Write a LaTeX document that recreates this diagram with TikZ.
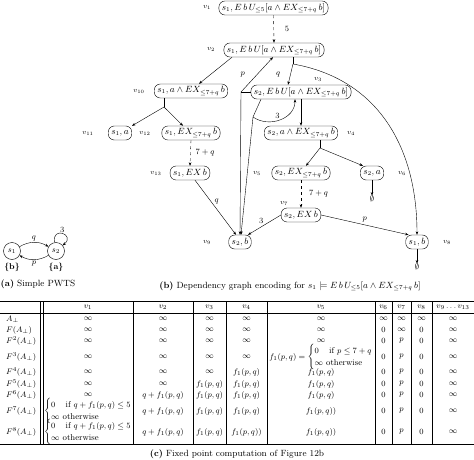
\documentclass[tikz,border=0pt]{standalone}
\usepackage{amsmath,amssymb}
\usetikzlibrary{arrows.meta}
\newcommand{\mycases}[1]{\left\{\begin{array}{@{}l@{\hspace{3pt}}l@{}}0 & \text{ if } #1\\ \infty & \text{otherwise}\end{array}\right.}
\begin{document}
\begin{tikzpicture}[x=1pt,y=-1pt,
  gnode/.style={draw, rounded corners=6pt, inner xsep=3pt, inner ysep=2pt, minimum height=14pt, font=\fontsize{8.7}{10.5}\selectfont, line width=0.4pt},
  vlab/.style={font=\fontsize{7.5}{9}\selectfont, inner sep=1pt},
  wlab/.style={font=\fontsize{8.5}{10}\selectfont, inner sep=1pt},
  arr/.style={-{Stealth[length=3.5pt,width=2.6pt]}, line width=0.4pt},
  ln/.style={line width=0.4pt},
  cell/.style={font=\fontsize{8.5}{11.5}\selectfont, inner sep=0pt},
  captxt/.style={font=\fontsize{9}{11}\selectfont, inner sep=0pt},
  st/.style={draw, circle, minimum size=17pt, inner sep=0pt, font=\fontsize{8}{9}\selectfont, line width=0.4pt},
]
\useasboundingbox (0,0) rectangle (474,460);

% ---------- (a) PWTS ----------
\node[st] (s1) at (12,251) {$s_1$};
\node[st] (s2) at (56,251) {$s_2$};
\draw[arr] (s1) to[bend left=30] node[wlab, above] {$q$} (s2);
\draw[arr] (s2) to[bend left=30] node[wlab, below] {$p$} (s1);
\draw[arr] (s2.100) to[out=100, in=40, looseness=5] node[wlab, above] {$3$} (s2.40);
\node[cell] (pb) at (12,267) {\textbf{\{b\}}};
\node[cell] (pa) at (56,267) {\textbf{\{a\}}};
\node[captxt, anchor=west] (capa) at (0.5,284) {\textbf{(a)} Simple PWTS};

% ---------- (b) dependency graph ----------
\node[gnode] (v1) at (273.5,8) {$s_1, E\,b\,U_{\leq 5}[a\wedge EX_{\leq 7+q}\,b]$};
\node[gnode] (v2) at (274,50) {$s_1, E\,b\,U[a\wedge EX_{\leq 7+q}\,b]$};
\node[gnode] (v10) at (191,91) {$s_1, a\wedge EX_{\leq 7+q}\,b$};
\node[gnode] (v3) at (301,92) {$s_2, E\,b\,U[a\wedge EX_{\leq 7+q}\,b]$};
\node[gnode] (v11) at (120,133) {$s_1, a$};
\node[gnode] (v12) at (191,133) {$s_1, EX_{\leq 7+q}\,b$};
\node[gnode] (v4) at (301,133) {$s_2, a\wedge EX_{\leq 7+q}\,b$};
\node[gnode] (v13) at (190,173) {$s_1, EX\,b$};
\node[gnode] (v5) at (301,173) {$s_2, EX_{\leq 7+q}\,b$};
\node[gnode] (v6) at (372,173) {$s_2, a$};
\node[gnode] (v7) at (301,215) {$s_2, EX\,b$};
\node[gnode] (v9) at (240,242) {$s_2, b$};
\node[gnode] (v8) at (417,242) {$s_1, b$};
\node[cell] (e6) at (372,199) {$\emptyset$};
\node[cell] (e8) at (417,267) {$\emptyset$};

\node[vlab] (l1) at (207,7) {$v_1$};
\node[vlab] (l2) at (211,49) {$v_2$};
\node[vlab] (l10) at (139,91) {$v_{10}$};
\node[vlab] (l3) at (318,79) {$v_3$};
\node[vlab] (l11) at (88,133) {$v_{11}$};
\node[vlab] (l12) at (145,133) {$v_{12}$};
\node[vlab] (l4) at (351,133) {$v_4$};
\node[vlab] (l13) at (156,173) {$v_{13}$};
\node[vlab] (l5) at (257,173) {$v_5$};
\node[vlab] (l6) at (402,173) {$v_6$};
\node[vlab] (l7) at (284,203) {$v_7$};
\node[vlab] (l9) at (207,242) {$v_9$};
\node[vlab] (l8) at (447,242) {$v_8$};

\coordinate (h2) at (293,64);
\coordinate (h3a) at (241,92);
\coordinate (h3b) at (253,117);
\coordinate (h10) at (164,107);
\coordinate (h4) at (320,148);

\draw[arr, dashed] (v1.south) -- node[wlab, right=10pt] {$5$} (v2.north);
\draw[arr] ([xshift=-42pt]v2.south) -- ([xshift=8pt]v10.north);
\draw[ln] ([xshift=19pt]v2.south) -- (h2);
\draw[arr] (h2) -- node[wlab, left=9pt] {$q$} ([xshift=-13pt]v3.north);
\draw[arr] (h2) to[out=-10, in=90, looseness=1.05] (v8.north);
\draw[ln] (v3.west) -- (h3a);
\draw[arr] (h3a) -- node[wlab, left=11pt] {$p$} ([xshift=-1pt]v2.south);
\draw[arr] (h3a) -- (v9.north);
\draw[ln] ([xshift=-40pt]v3.south) -- (h3b);
\draw[arr] (h3b) to[out=-35, in=-90, looseness=1.1] node[wlab, pos=0.45, above=1pt] {$3$} ([xshift=-6pt]v3.south);
\draw[arr] (h3b) -- ([xshift=1pt]v9.north);
\draw[arr] (v3.south) -- (v4.north);
\draw[ln] ([xshift=-27pt]v10.south) -- (h10);
\draw[arr] (h10) -- ([xshift=12pt]v11.north);
\draw[arr] (h10) -- ([xshift=-8pt]v12.north);
\draw[arr, dashed] (v12.south) -- node[wlab, right=4pt] {$7+q$} (v13.north);
\draw[ln] ([xshift=19pt]v4.south) -- (h4);
\draw[arr] (h4) -- ([xshift=5pt]v5.north);
\draw[arr] (h4) -- ([xshift=-9pt]v6.north);
\draw[arr] (v6.south) -- (e6.north);
\draw[arr, dashed] (v5.south) -- node[wlab, right=7pt] {$7+q$} (v7.north);
\draw[arr] ([xshift=5pt]v13.south) -- node[wlab, pos=0.4, right=2pt] {$q$} ([xshift=-4pt]v9.north);
\draw[arr] (v7.west) -- node[wlab, above left=0pt] {$3$} ([xshift=8pt]v9.north);
\draw[arr] (v7.east) -- node[wlab, above=2pt] {$p$} ([xshift=3pt]v8.north west);
\draw[arr] (v8.south) -- (e8.north);

\node[captxt] (capb) at (290,286) {\textbf{(b)} Dependency graph encoding for $s_1\models E\,b\,U_{\leq 5}[a\wedge EX_{\leq 7+q}\,b]$};

% ---------- (c) table ----------
\draw[ln] (0,301) -- (474,301);
\draw[ln] (0,313) -- (474,313);
\draw[ln] (0,444) -- (474,444);
\foreach \x in {40.5,43,133,193,226,267,375,392,411,432}
  \draw[ln] (\x,301) -- (\x,444);

\node[cell] (h1) at (88,307) {$v_1$};
\node[cell] (hh2) at (163,307) {$v_2$};
\node[cell] (hh3) at (209.5,307) {$v_3$};
\node[cell] (hh4) at (246.5,307) {$v_4$};
\node[cell] (hh5) at (321,307) {$v_5$};
\node[cell] (hh6) at (383.5,307) {$v_6$};
\node[cell] (hh7) at (401.5,307) {$v_7$};
\node[cell] (hh8) at (421.5,307) {$v_8$};
\node[cell] (hh9) at (453,307) {$v_9\dots v_{13}$};

\def\rowys{{0,319,330,341,357,372,384,395,411,432}}
\node[cell, anchor=west] (r1) at (6,319) {$A_\bot$};
\node[cell, anchor=west] (r2) at (6,330) {$F(A_\bot)$};
\node[cell, anchor=west] (r3) at (6,341) {$F^2(A_\bot)$};
\node[cell, anchor=west] (r4) at (6,357) {$F^3(A_\bot)$};
\node[cell, anchor=west] (r5) at (6,372) {$F^4(A_\bot)$};
\node[cell, anchor=west] (r6) at (6,384) {$F^5(A_\bot)$};
\node[cell, anchor=west] (r7) at (6,395) {$F^6(A_\bot)$};
\node[cell, anchor=west] (r8) at (6,411) {$F^7(A_\bot)$};
\node[cell, anchor=west] (r9) at (6,432) {$F^8(A_\bot)$};

\foreach \c/\x/\a/\b in {1/88/1/7, 2/163/1/6, 3/209.5/1/5, 4/246.5/1/4, 5/321/1/3, 6/383.5/1/1, 7/401.5/1/2, 8/421.5/1/1, 9/453/1/9}
  \foreach \r in {\a,...,\b} {
    \pgfmathsetmacro\yy{\rowys[\r]}
    \node[cell] (c\c-\r) at (\x,\yy) {$\infty$};
  }
\foreach \r in {7,8,9} {
  \pgfmathsetmacro\yy{\rowys[\r]}
  \node[cell] (c2-\r) at (163,\yy) {$q+f_1(p,q)$};
}
\foreach \r in {6,7,8,9} {
  \pgfmathsetmacro\yy{\rowys[\r]}
  \node[cell] (c3-\r) at (209.5,\yy) {$f_1(p,q)$};
}
\foreach \r in {5,6,7,8} {
  \pgfmathsetmacro\yy{\rowys[\r]}
  \node[cell] (c4-\r) at (246.5,\yy) {$f_1(p,q)$};
}
\node[cell] (c4-9) at (246.5,432) {$f_1(p,q))$};
\foreach \r in {5,6,7} {
  \pgfmathsetmacro\yy{\rowys[\r]}
  \node[cell] (c5-\r) at (321,\yy) {$f_1(p,q)$};
}
\node[cell] (c5-8) at (321,411) {$f_1(p,q))$};
\node[cell] (c5-9) at (321,432) {$f_1(p,q))$};
\node[cell] (c5-4) at (321,357) {$f_1(p,q)=\mycases{p\leq 7+q}$};
\node[cell] (c1-8) at (88,411) {$\mycases{q+f_1(p,q)\leq 5}$};
\node[cell] (c1-9) at (88,432) {$\mycases{q+f_1(p,q)\leq 5}$};
\foreach \r in {2,...,9} {
  \pgfmathsetmacro\yy{\rowys[\r]}
  \node[cell] (c6-\r) at (383.5,\yy) {$0$};
  \node[cell] (c8-\r) at (421.5,\yy) {$0$};
}
\foreach \r in {3,...,9} {
  \pgfmathsetmacro\yy{\rowys[\r]}
  \node[cell] (c7-\r) at (401.5,\yy) {$p$};
}

\node[captxt] (capc) at (237,454) {\textbf{(c)} Fixed point computation of Figure 12b};
\end{tikzpicture}
\end{document}
